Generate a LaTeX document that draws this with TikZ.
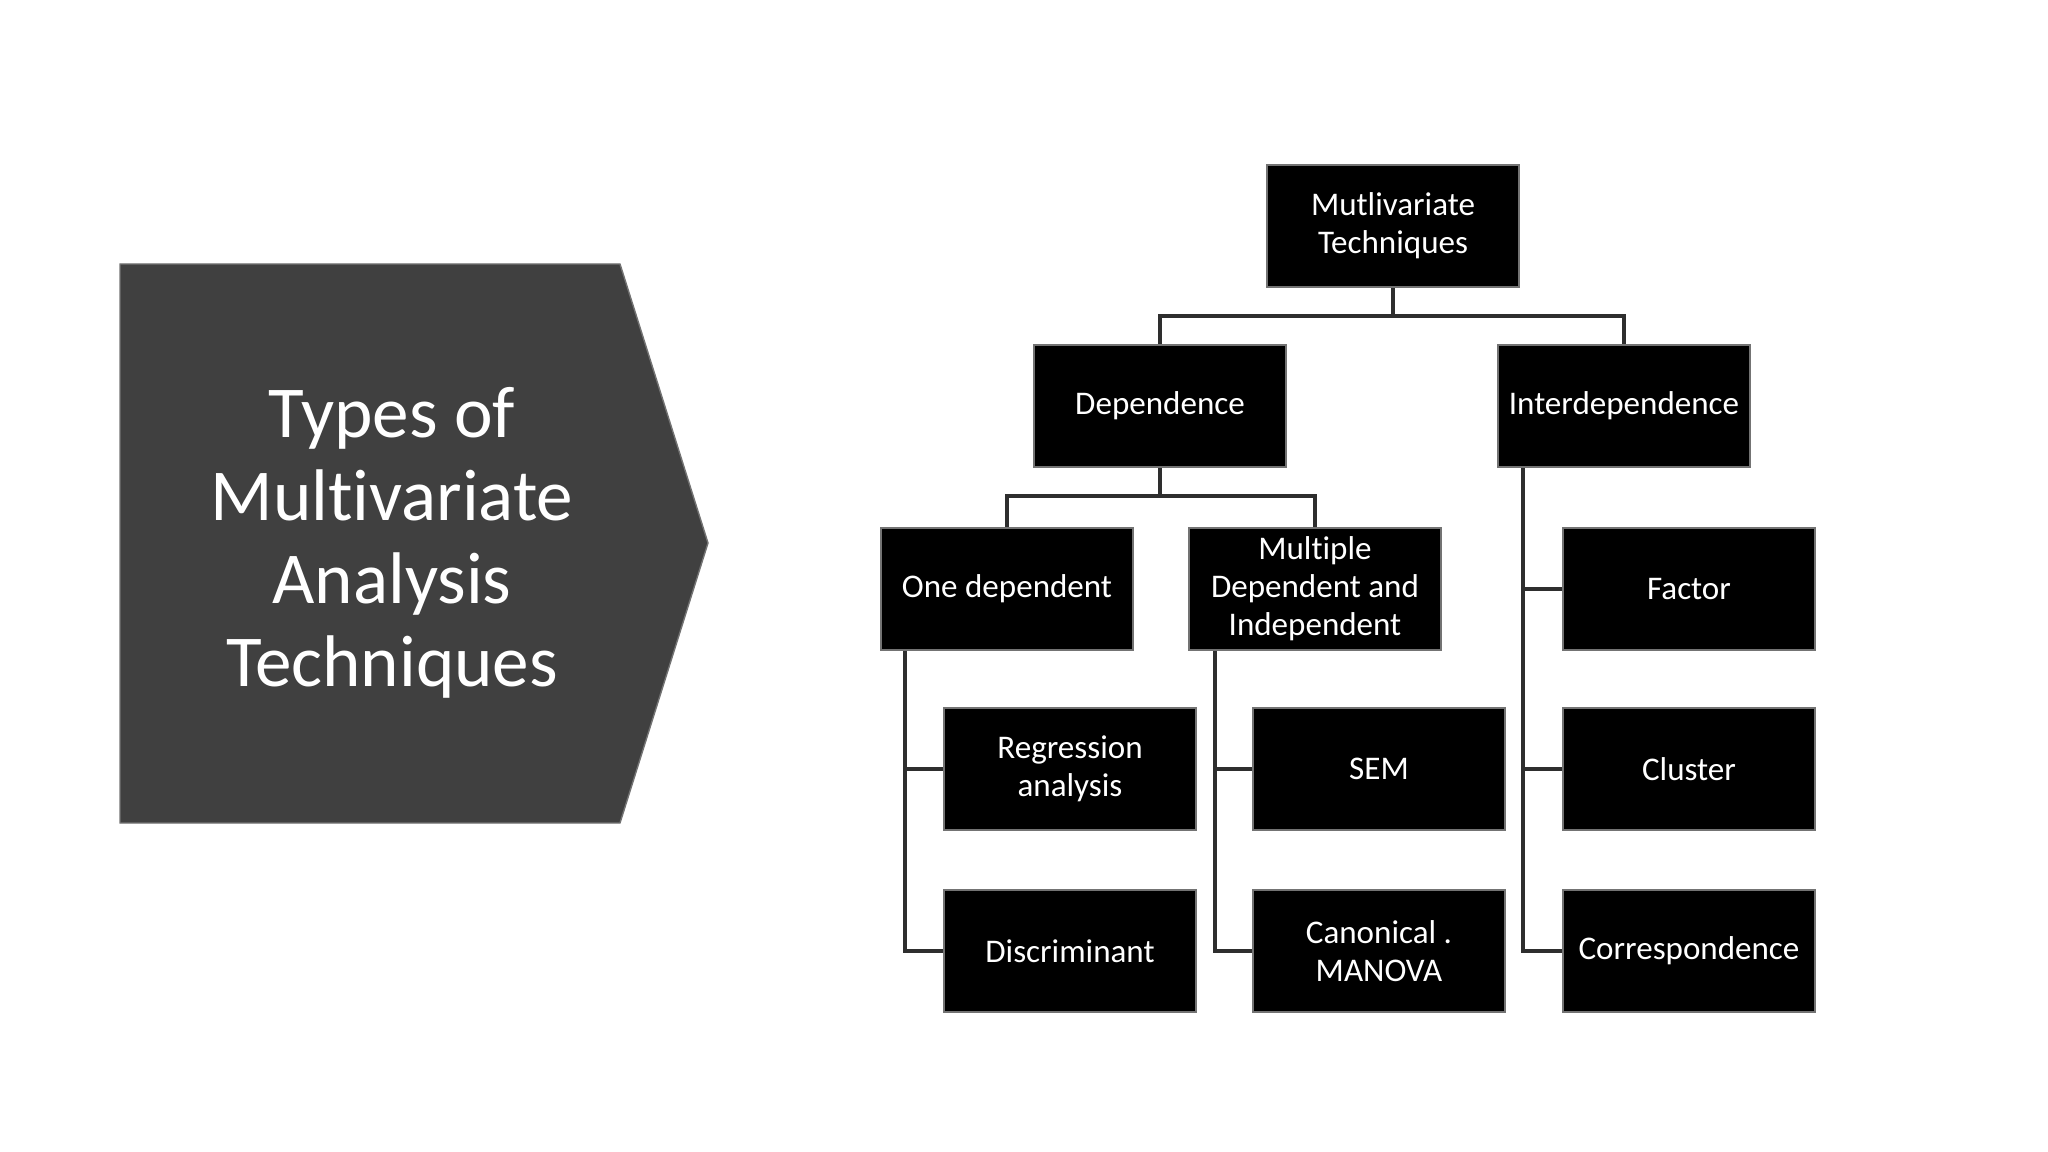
\documentclass[tikz,border=0pt]{standalone}
\usepackage{fontspec}
\setmainfont[Ligatures={NoCommon}]{Carlito}
\usetikzlibrary{positioning}
\pgfdeclarelayer{nodelayer}
\pgfdeclarelayer{edgelayer}
\pgfsetlayers{edgelayer,nodelayer,main}
\definecolor{chevgray}{HTML}{404040}
\definecolor{linegray}{HTML}{2E2E2E}
\tikzset{joint/.style={inner sep=0pt, minimum size=0pt}}
\tikzset{tbox/.style={draw=black!55, fill=black, text=white, rectangle, minimum width=2.52cm, minimum height=1.22cm, inner sep=2pt, align=center, font=\fontsize{9.4}{10.8}\selectfont}}
\tikzset{title/.style={text=white, align=center, font=\fontsize{20.8}{23.6}\selectfont}}
\tikzset{link/.style={draw=linegray, line width=1.1pt}}

\begin{document}
\begin{tikzpicture}[x=0.01cm, y=-0.01cm]
	\useasboundingbox (0,0) rectangle (2048,1152);
	\begin{pgfonlayer}{nodelayer}
		\node [style=title] (t) at (392, 543) {Types of\\Multivariate\\Analysis\\Techniques};
		\node [style=tbox] (0) at (1393, 226) {Mutlivariate\\Techniques};
		\node [style=tbox] (1) at (1160, 406) {Dependence};
		\node [style=tbox] (2) at (1624, 406) {Interdependence};
		\node [style=tbox] (3) at (1007, 589) {One dependent};
		\node [style=tbox] (4) at (1315, 589) {Multiple\\Dependent and\\Independent};
		\node [style=tbox] (5) at (1689, 589) {Factor};
		\node [style=tbox] (6) at (1070, 769) {Regression\\analysis};
		\node [style=tbox] (7) at (1379, 769) {SEM};
		\node [style=tbox] (8) at (1689, 769) {Cluster};
		\node [style=tbox] (9) at (1070, 951) {Discriminant};
		\node [style=tbox] (10) at (1379, 951) {Canonical .\\MANOVA};
		\node [style=tbox] (11) at (1689, 951) {Correspondence};
		\node [style=joint] (12) at (1393, 316) {};
		\node [style=joint] (13) at (1160, 496) {};
		\node [style=joint] (14) at (905, 650) {};
		\node [style=joint] (15) at (1215, 650) {};
		\node [style=joint] (16) at (1523, 468) {};
	\end{pgfonlayer}
	\begin{pgfonlayer}{edgelayer}
		\fill [chevgray, draw=black!55, line width=0.4pt] (120, 264) -- (620, 264) -- (708, 543) -- (620, 823) -- (120, 823) -- cycle;
		\draw [style=link] (0) -- (12);
		\draw [style=link] (1.north) |- (12.center) -| (2.north);
		\draw [style=link] (1) -- (13);
		\draw [style=link] (3.north) |- (13.center) -| (4.north);
		\draw [style=link] (14.center) |- (9.west);
		\draw [style=link] (6.west) -- (6.west -| 14);
		\draw [style=link] (15.center) |- (10.west);
		\draw [style=link] (7.west) -- (7.west -| 15);
		\draw [style=link] (16.center) |- (11.west);
		\draw [style=link] (5.west) -- (5.west -| 16);
		\draw [style=link] (8.west) -- (8.west -| 16);
	\end{pgfonlayer}
\end{tikzpicture}
\end{document}
